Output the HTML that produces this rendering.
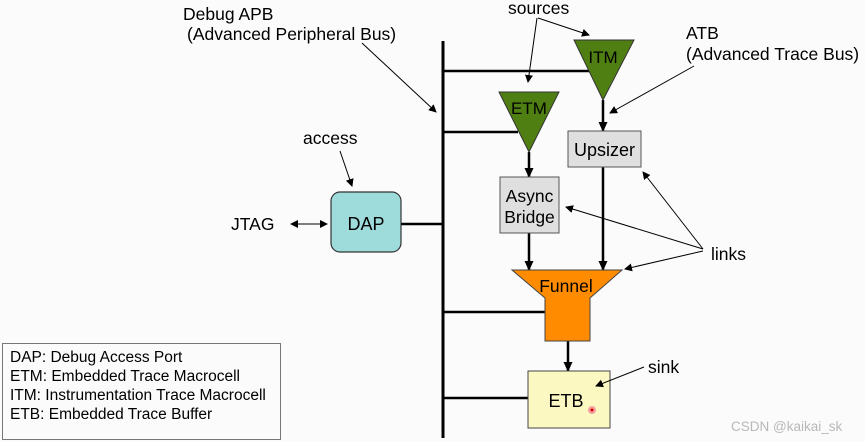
<!DOCTYPE html>
<html><head><meta charset="utf-8"><style>
html,body{margin:0;padding:0;background:#fbfbfc;}
svg{display:block;font-family:"Liberation Sans",Arial,sans-serif;}
</style></head><body>
<svg width="865" height="442" viewBox="0 0 865 442" xmlns="http://www.w3.org/2000/svg">
<defs>
<marker id="a" markerWidth="8" markerHeight="8" refX="7" refY="4" orient="auto" markerUnits="userSpaceOnUse"><path d="M0,0 L8,4 L0,8 z" fill="#000"/></marker>
<marker id="b" markerWidth="10" markerHeight="10" refX="9" refY="5" orient="auto" markerUnits="userSpaceOnUse"><path d="M0,0.5 L10,5 L0,9.5 z" fill="#000"/></marker>
<marker id="s" markerWidth="8" markerHeight="8" refX="1" refY="4" orient="auto" markerUnits="userSpaceOnUse"><path d="M8,0 L0,4 L8,8 z" fill="#000"/></marker>
</defs>
<rect width="865" height="442" fill="#fbfbfc"/>
<line x1="443" y1="41" x2="443" y2="438" stroke="#000" stroke-width="3"/>
<line x1="443" y1="71" x2="590" y2="71" stroke="#000" stroke-width="2.5"/>
<line x1="443" y1="132" x2="518" y2="132" stroke="#000" stroke-width="2.5"/>
<line x1="401" y1="224" x2="443" y2="224" stroke="#000" stroke-width="2.5"/>
<line x1="443" y1="312" x2="546" y2="312" stroke="#000" stroke-width="2.5"/>
<line x1="443" y1="398" x2="528" y2="398" stroke="#000" stroke-width="2.5"/>
<line x1="603" y1="100" x2="603" y2="131" stroke="#000" stroke-width="2.5" marker-end="url(#b)"/>
<line x1="529" y1="152" x2="529" y2="177" stroke="#000" stroke-width="2.5" marker-end="url(#b)"/>
<line x1="529" y1="233" x2="529" y2="270" stroke="#000" stroke-width="2.5" marker-end="url(#b)"/>
<line x1="603" y1="167" x2="603" y2="270" stroke="#000" stroke-width="2.5" marker-end="url(#b)"/>
<line x1="568" y1="341" x2="568" y2="371" stroke="#000" stroke-width="2.5" marker-end="url(#b)"/>
<polygon points="574,40 634,40 603,100" fill="#4f7f12" stroke="#333" stroke-width="1"/>
<text x="603" y="63" font-size="17" text-anchor="middle" fill="#000">ITM</text>
<polygon points="499,92 559,92 529,152" fill="#4f7f12" stroke="#333" stroke-width="1"/>
<text x="529" y="114" font-size="17" text-anchor="middle" fill="#000">ETM</text>
<rect x="568" y="131" width="73" height="36" fill="#e0dfdf" stroke="#555" stroke-width="1"/>
<text x="604.5" y="156" font-size="18" text-anchor="middle">Upsizer</text>
<rect x="500" y="177" width="59" height="56" fill="#e0dfdf" stroke="#555" stroke-width="1"/>
<text x="529.5" y="202" font-size="17.5" text-anchor="middle">Async</text>
<text x="529.5" y="223" font-size="17.5" text-anchor="middle">Bridge</text>
<polygon points="512,270 622,270 590,298 590,341 545,341 545,298" fill="#ff8c00" stroke="#444" stroke-width="1"/>
<text x="566" y="292" font-size="17.5" text-anchor="middle">Funnel</text>
<rect x="528" y="371" width="82" height="57" fill="#fbf8c2" stroke="#444" stroke-width="1"/>
<text x="566" y="407" font-size="18" text-anchor="middle">ETB</text>
<circle cx="592" cy="410" r="4" fill="#f4a0a0"/><circle cx="592" cy="410" r="1.5" fill="#d00"/>
<rect x="331" y="192" width="70" height="60" rx="9" fill="#9edcdc" stroke="#333" stroke-width="1.2"/>
<text x="366" y="230" font-size="18" text-anchor="middle">DAP</text>
<text x="231" y="230" font-size="17.5">JTAG</text>
<line x1="291" y1="224" x2="327" y2="224" stroke="#000" stroke-width="1" marker-start="url(#s)" marker-end="url(#a)"/>
<text x="183" y="20" font-size="17.5">Debug APB</text>
<text x="187" y="40" font-size="17.5">(Advanced Peripheral Bus)</text>
<line x1="362" y1="43" x2="436" y2="112" stroke="#000" stroke-width="1" marker-end="url(#a)"/>
<text x="303" y="144" font-size="17.5">access</text>
<line x1="340" y1="151" x2="352" y2="186" stroke="#000" stroke-width="1" marker-end="url(#a)"/>
<text x="508" y="14" font-size="17.5">sources</text>
<line x1="538" y1="18" x2="589" y2="35" stroke="#000" stroke-width="1" marker-end="url(#a)"/>
<line x1="537" y1="18" x2="528" y2="82" stroke="#000" stroke-width="1" marker-end="url(#a)"/>
<text x="686" y="39" font-size="17.5">ATB</text>
<text x="686" y="60" font-size="17.5">(Advanced Trace Bus)</text>
<line x1="694" y1="66" x2="610" y2="113" stroke="#000" stroke-width="1" marker-end="url(#a)"/>
<text x="711" y="260" font-size="17.5">links</text>
<line x1="703" y1="249" x2="643" y2="172" stroke="#000" stroke-width="1" marker-end="url(#a)"/>
<line x1="703" y1="249" x2="566" y2="207" stroke="#000" stroke-width="1" marker-end="url(#a)"/>
<line x1="703" y1="251" x2="625" y2="269" stroke="#000" stroke-width="1" marker-end="url(#a)"/>
<text x="648" y="373" font-size="17.5">sink</text>
<line x1="644" y1="367" x2="596" y2="386" stroke="#000" stroke-width="1" marker-end="url(#a)"/>
<rect x="2.5" y="343.5" width="278" height="96" fill="none" stroke="#777" stroke-width="1"/>
<text x="10" y="362" font-size="15.5">DAP: Debug Access Port</text>
<text x="10" y="381" font-size="15.5">ETM: Embedded Trace Macrocell</text>
<text x="10" y="400" font-size="15.5">ITM: Instrumentation Trace Macrocell</text>
<text x="10" y="419" font-size="15.5">ETB: Embedded Trace Buffer</text>
<text x="731" y="431" font-size="13.5" fill="#b8b8b8">CSDN @kaikai_sk</text>
</svg>
</body></html>
